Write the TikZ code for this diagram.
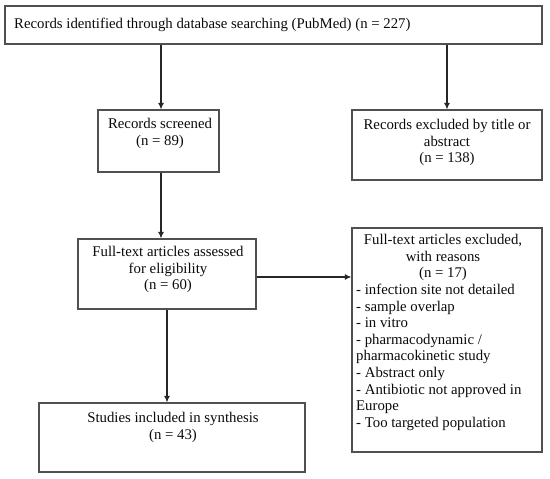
\documentclass[tikz,border=0pt]{standalone}
\usepackage{fontspec}
\setmainfont{Liberation Serif}
\usetikzlibrary{arrows.meta}
\definecolor{boxline}{HTML}{505050}
\definecolor{arrline}{HTML}{262626}
\definecolor{txt}{HTML}{0A0A0A}
\begin{document}
\begin{tikzpicture}[x=1pt,y=-1pt,
  box/.style={draw=boxline,line width=1.2pt,rectangle,inner sep=0pt},
  lbl/.style={inner sep=0pt,text=txt,font=\fontsize{14.8}{16.6}\selectfont},
  arr/.style={draw=arrline,line width=1.1pt,-{Latex[length=6.5pt,width=6pt]}}]
\useasboundingbox (0,0) rectangle (550,479);
% boxes
\node[box,minimum width=537pt,minimum height=38pt] (top) at (273.5,25) {};
\node[box,minimum width=121pt,minimum height=62pt] (scr) at (158.5,141) {};
\node[box,minimum width=190pt,minimum height=70pt] (ex1) at (447,145) {};
\node[box,minimum width=178pt,minimum height=70pt] (ass) at (167,274) {};
\node[box,minimum width=190pt,minimum height=224pt] (ex2) at (447,340) {};
\node[box,minimum width=266pt,minimum height=69pt] (stu) at (172,437.5) {};
% texts
\node[lbl,anchor=base west] (ttop) at (14,28) {Records identified through database searching (PubMed) (n = 227)};
\node[lbl,anchor=north,align=center] (tscr) at (160,118) {Records screened\\(n = 89)};
\node[lbl,anchor=north,align=center] (tex1) at (447,119) {Records excluded by title or\\abstract\\(n = 138)};
\node[lbl,anchor=north,align=center] (tass) at (168,246) {Full-text articles assessed\\for eligibility\\(n = 60)};
\node[lbl,anchor=north,align=center] (tex2) at (443,234) {Full-text articles excluded,\\with reasons\\(n = 17)};
\node[lbl,anchor=north west,align=left] (tex2b) at (356,283.8) {- infection site not detailed\\- sample overlap\\- in vitro\\- pharmacodynamic /\\pharmacokinetic study\\- Abstract only\\- Antibiotic not approved in\\Europe\\- Too targeted population};
\node[lbl,anchor=north,align=center] (tstu) at (173,412) {Studies included in synthesis\\(n = 43)};
% connectors
\coordinate (c1) at (161,0);
\coordinate (c2) at (447,0);
\coordinate (c3) at (167,0);
\coordinate (c4) at (0,277);
\draw[arr] (top.south -| c1) -- (scr.north -| c1);
\draw[arr] (top.south -| c2) -- (ex1.north -| c2);
\draw[arr] (scr.south -| c1) -- (ass.north -| c1);
\draw[arr] (ass.south -| c3) -- (stu.north -| c3);
\draw[arr] (ass.east |- c4) -- (ex2.west |- c4);
\end{tikzpicture}
\end{document}
